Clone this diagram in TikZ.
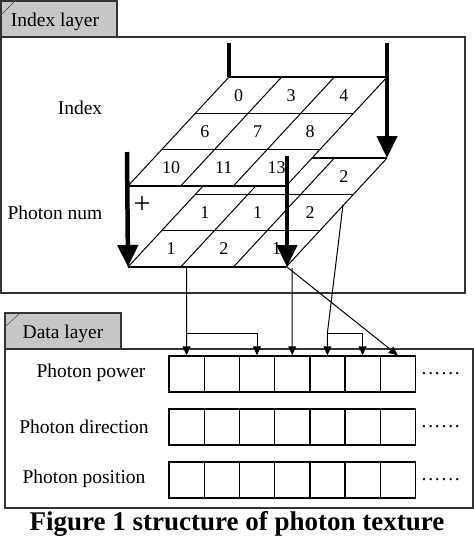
\documentclass[tikz,border=0pt]{standalone}
\usepackage{fontspec}
\setmainfont{Liberation Serif}
\usetikzlibrary{arrows.meta,positioning}

\newcommand{\rowdots}{.\kern1.8pt.\kern1.8pt.\kern1.8pt.\kern1.8pt.\kern1.8pt.}

\tikzset{
  cell/.style={draw,line width=1.4pt,minimum width=35.2pt,minimum height=36pt,inner sep=0pt},
  lbl/.style={font=\fontsize{19.5}{20}\selectfont},
  num/.style={font=\fontsize{18}{19}\selectfont},
  layerbox/.style={draw=black!80,line width=1.3pt},
  tab/.style={draw=black!80,line width=1.2pt,fill=black!22},
  bigarrow/.style={line width=4.5pt,-{Triangle[length=22pt,width=20pt]}},
  thinarrow/.style={line width=1pt,-{Triangle[length=9pt,width=8pt]}},
}

\begin{document}
\begin{tikzpicture}[x=1pt,y=-1pt]
  \useasboundingbox (0,0) rectangle (474,539);

  % index layer
  \draw[layerbox] (1,37) rectangle (465,293);
  \draw[tab] (1,1) rectangle (117,37);
  \draw[black!80] (2,14) -- (14,2);
  \node[lbl] (idxtab) at (55,22) {Index layer};
  \node[lbl] (idxlbl) at (80,108) {Index};
  \node[lbl] (numlbl) at (55,213) {Photon num};
  \node[font=\fontsize{30}{30}\selectfont] (plus) at (142,205) {+};

  % photon num grid (behind)
  \foreach \r in {0,...,3}
    \draw[line width=1.2pt] ({229-33.7*\r},{158+36.3*\r}) -- ++(158,0);
  \foreach \c in {0,...,3}
    \draw[line width=1pt] ({229+52.7*\c},158) -- ++(-101,109);
  \foreach \r/\c/\t in {0/2/2,1/0/1,1/1/1,1/2/2,2/0/1,2/1/2,2/2/1}
    \node[num] (n\r\c) at ({229-33.7*(\r+0.5)+52.7*(\c+0.5)},{158+36.3*(\r+0.5)}) {\t};
  \coordinate (numTR) at (387,158);
  \coordinate (numBL) at (128,267);
  \coordinate (numBR) at (287,267);

  % index grid (front)
  \fill[white] (229,77) -- (387,77) -- (286,186) -- (128,186) -- cycle;
  \foreach \r in {0,...,3}
    \draw[line width=1.2pt] ({229-33.7*\r},{77+36.3*\r}) -- ++(158,0);
  \foreach \c in {0,...,3}
    \draw[line width=1pt] ({229+52.7*\c},77) -- ++(-101,109);
  \foreach \r/\c/\t in {0/0/0,0/1/3,0/2/4,1/0/6,1/1/7,1/2/8,2/0/10,2/1/11,2/2/13}
    \node[num] (i\r\c) at ({229-33.7*(\r+0.5)+52.7*(\c+0.5)},{77+36.3*(\r+0.5)}) {\t};
  \coordinate (idxTL) at (229,77);

  % depth arrows
  \coordinate (tlTop) at (229,43);
  \coordinate (trTop) at (387,43);
  \coordinate (lTop) at (127,152);
  \coordinate (mTop) at (287,156);
  \draw[line width=4.5pt] (tlTop) -- (idxTL);
  \draw[bigarrow] (trTop) -- (numTR);
  \draw[bigarrow] (lTop) -- (numBL);
  \draw[bigarrow] (mTop) -- (numBR);

  % data layer
  \draw[layerbox] (5,349) rectangle (473,508);
  \draw[tab] (5,313) rectangle (121,349);
  \draw[black!80] (6,326) -- (19,314);
  \node[lbl] (datatab) at (63,334) {Data layer};
  \foreach \i in {1,...,7} {
    \node[cell] (pw\i) at ({151.4+35.2*\i},374) {};
    \node[cell] (dir\i) at ({151.4+35.2*\i},427) {};
    \node[cell] (pos\i) at ({151.4+35.2*\i},480) {};
  }
  \node[lbl] (pwlbl) at (91,373) {Photon power};
  \node[lbl] (dirlbl) at (84,427) {Photon direction};
  \node[lbl] (poslbl) at (84,479) {Photon position};
  \node[lbl] (pwdots) [right=2pt of pw7] {\rowdots};
  \node[lbl] (dirdots) [right=2pt of dir7] {\rowdots};
  \node[lbl] (posdots) [right=2pt of pos7] {\rowdots};

  % links from index layer to data layer
  \coordinate (numB1) at (186.6,267);
  \coordinate (fork1) at (186.6,333);
  \draw[thinarrow] (numB1) -- (pw1.north);
  \draw[thinarrow] (fork1) -| (pw3.north);
  \coordinate (numB4) at (292.2,268);
  \draw[thinarrow] (numB4) -- (pw4.north);
  \draw[thinarrow] (numBR) -- (pw7.north);
  \coordinate (numR2) at (343,205);
  \coordinate (fork2) at (327.4,333);
  \draw[line width=1pt] (numR2) -- (fork2);
  \draw[thinarrow] (fork2) -- (pw5.north);
  \draw[thinarrow] (fork2) -| (pw6.north);

  \node[font=\bfseries\fontsize{27}{28}\selectfont,anchor=base] (caption) at (237,530) {Figure 1 structure of photon texture};
\end{tikzpicture}
\end{document}
